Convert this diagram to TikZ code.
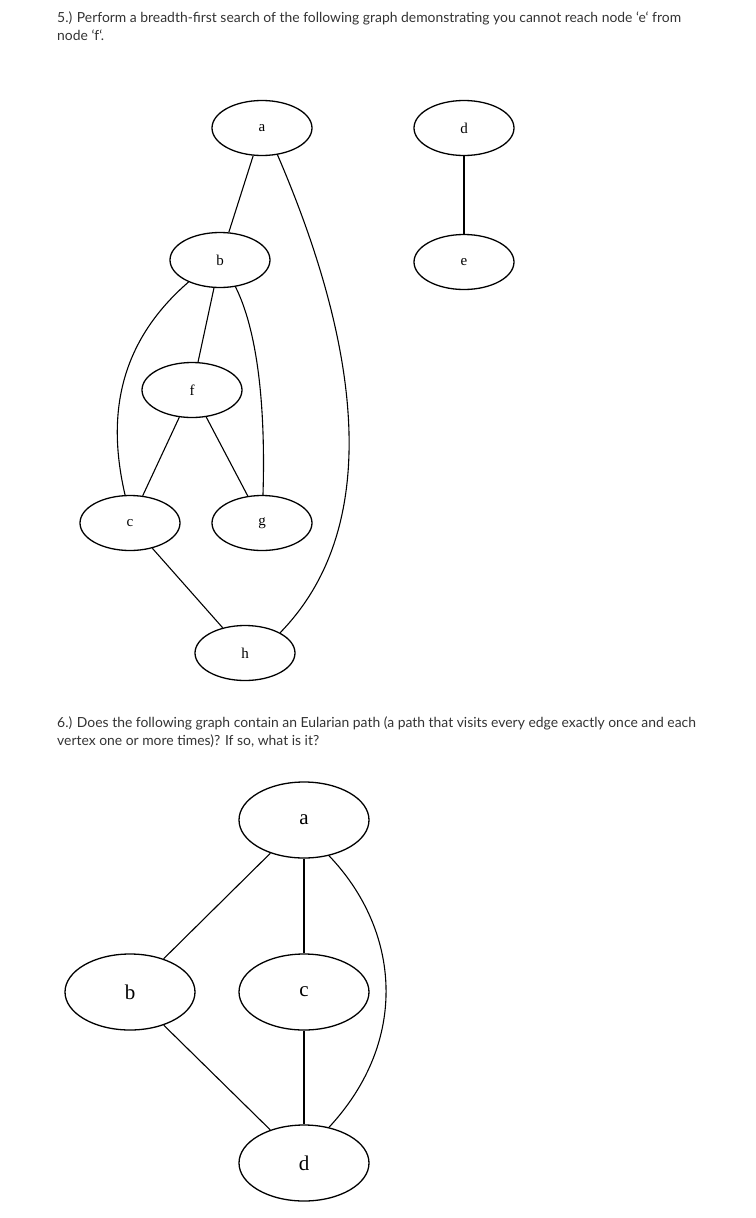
\documentclass[tikz,border=0pt]{standalone}
\usepackage{fontspec}
\setsansfont{Lato}
\setmainfont{Liberation Serif}
\usetikzlibrary{shapes.geometric}
\begin{document}
\begin{tikzpicture}[x=1pt,y=-1pt,
 vs/.style={draw,line width=1.3pt,ellipse,minimum width=100pt,minimum height=55pt,inner sep=0pt,font=\fontsize{15}{15}\selectfont},
 vb/.style={draw,line width=1.3pt,ellipse,minimum width=130pt,minimum height=76pt,inner sep=0pt,font=\fontsize{21}{21}\selectfont},
 ed/.style={line width=1.1pt},
 qt/.style={anchor=north west,inner sep=0pt,align=left,text=black!80,font=\sffamily\fontsize{13.9}{18}\selectfont}]
\useasboundingbox (0,0) rectangle (755,1218);
\node[qt] (q5) at (57,12) {5.) Perform a breadth-first search of the following graph demonstrating you cannot reach node `e` from\\node `f`.};
\node[qt] (q6) at (57,717) {6.) Does the following graph contain an Eularian path (a path that visits every edge exactly once and each\\vertex one or more times)? If so, what is it?};
\node[vs] (a) at (262,128) {a};
\node[vs] (d) at (464,128) {d};
\node[vs] (b) at (220,260) {b};
\node[vs] (e) at (464,262) {e};
\node[vs] (f) at (192,390) {f};
\node[vs] (c) at (130,523) {c};
\node[vs] (g) at (262,523) {g};
\node[vs] (h) at (245,653) {h};
\draw[ed] (a) -- (b);
\draw[ed] (d) -- (e);
\draw[ed] (b) -- (f);
\draw[ed] (f) -- (c);
\draw[ed] (f) -- (g);
\draw[ed] (c) -- (h);
\draw[ed] (a.300) .. controls (340,300) and (400,510) .. (h.30);
\draw[ed] (b.300) .. controls (262,340) and (265,430) .. (g.88);
\draw[ed] (b.215) .. controls (110,350) and (110,430) .. (c.100);
\node[vb] (A) at (304,820) {a};
\node[vb] (B) at (130,992) {b};
\node[vb] (C) at (304,992) {c};
\node[vb] (D) at (304,1163) {d};
\draw[ed] (A) -- (B);
\draw[ed] (A) -- (C);
\draw[ed] (C) -- (D);
\draw[ed] (B) -- (D);
\draw[ed] (A.305) .. controls (400,930) and (410,1040) .. (D.55);
\end{tikzpicture}
\end{document}
